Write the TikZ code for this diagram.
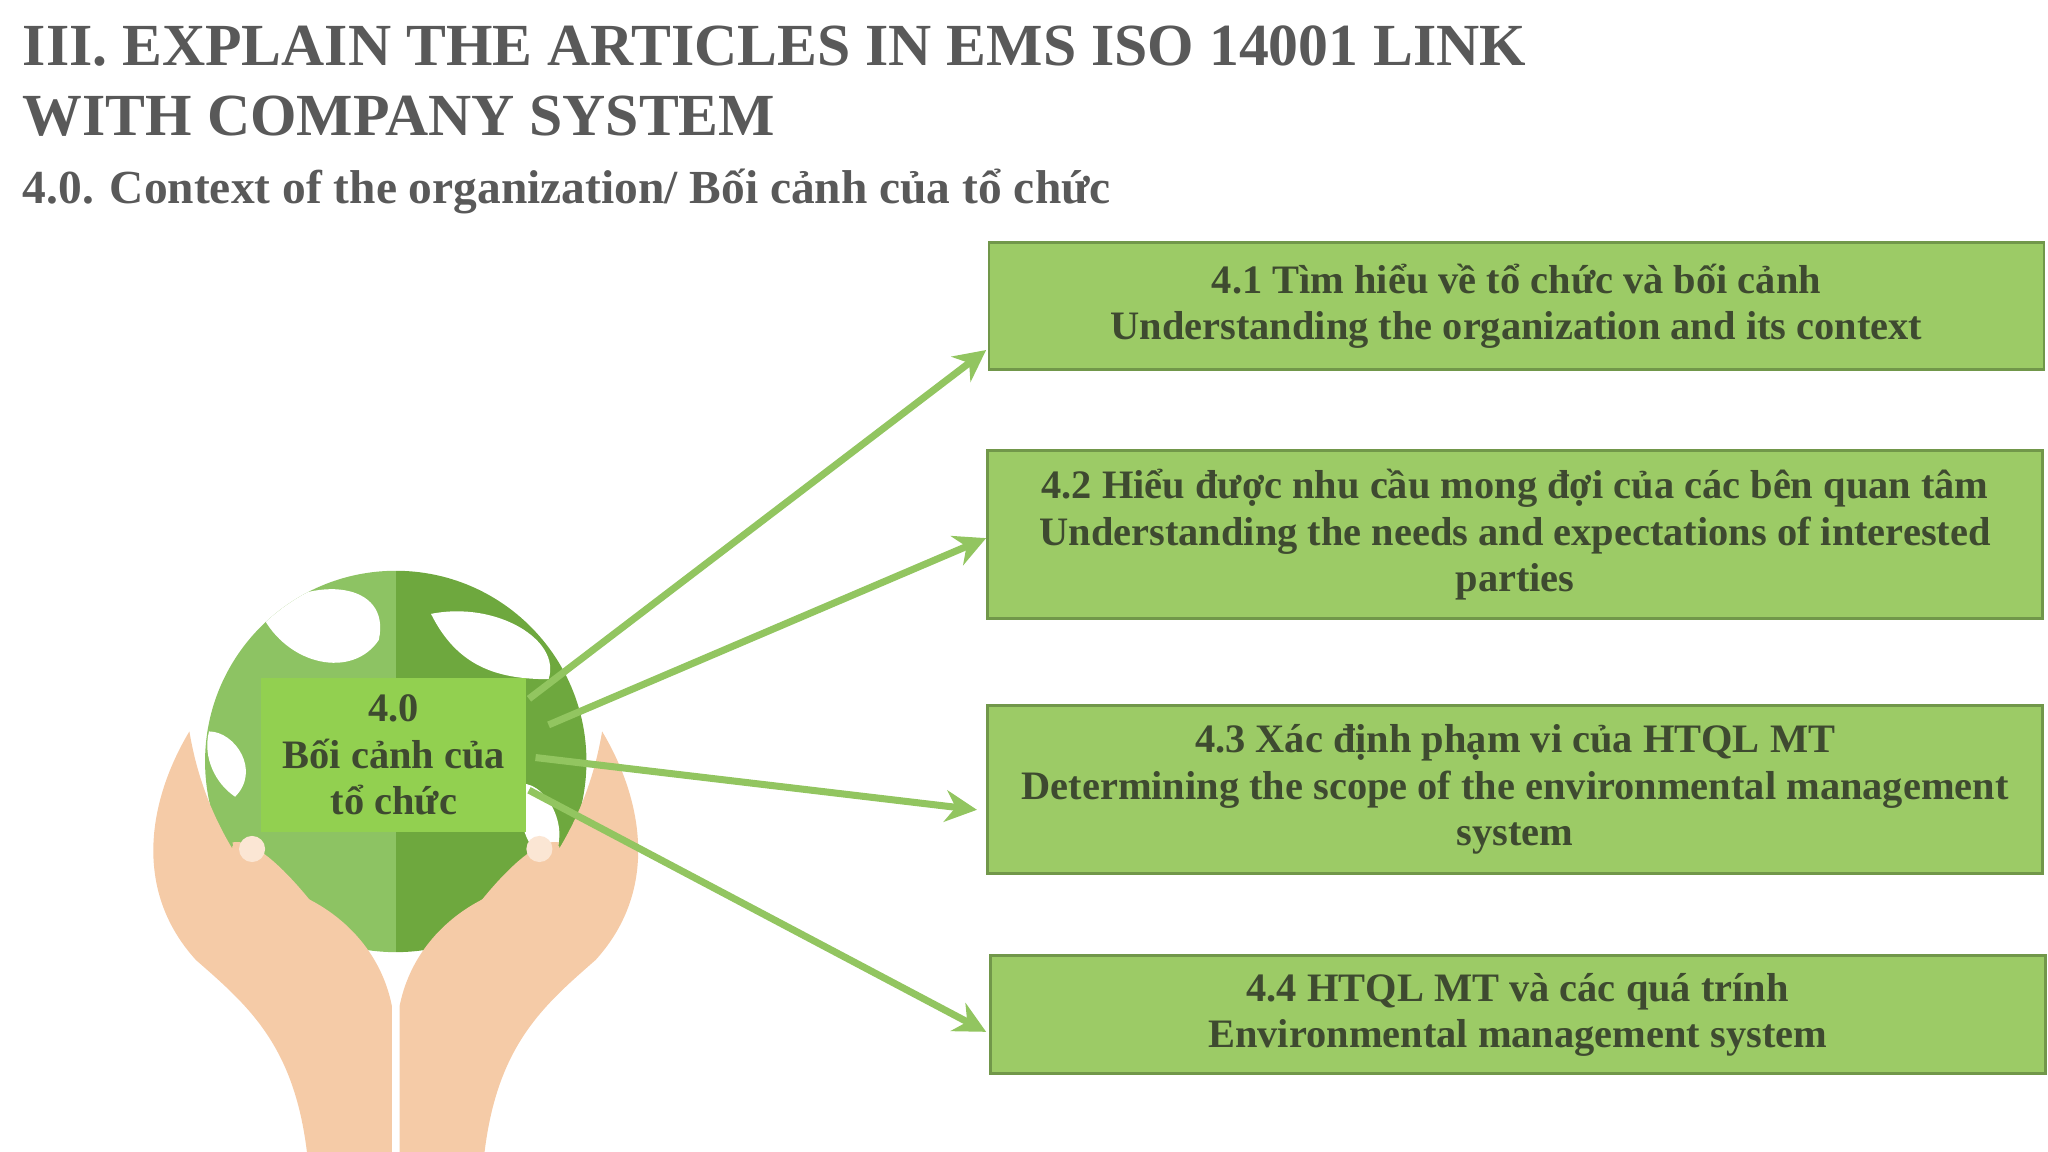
\documentclass[tikz,border=0pt]{standalone}
\usepackage{fontspec}
\setmainfont{Liberation Serif}
\usetikzlibrary{arrows.meta}
\definecolor{titlegray}{HTML}{595959}
\definecolor{boxfill}{HTML}{9CCB66}
\definecolor{boxline}{HTML}{71974A}
\definecolor{boxtext}{HTML}{3E4A30}
\definecolor{ctxgreen}{HTML}{92D050}
\definecolor{arrowgreen}{HTML}{92C560}
\definecolor{globelight}{HTML}{8DC363}
\definecolor{globedark}{HTML}{6EA83E}
\definecolor{skin}{HTML}{F5CBA7}
\definecolor{nail}{HTML}{FBE6D4}
\tikzset{
  item/.style={draw=boxline, line width=0.8pt, fill=boxfill, text=boxtext, align=center,
    font=\fontsize{11.5pt}{13.2pt}\selectfont\bfseries, inner sep=0pt,
    minimum width=10.55cm},
  link/.style={draw=arrowgreen, line width=2pt, -{Stealth[length=9pt,width=9pt]}}
}
\begin{document}
\begin{tikzpicture}[x=0.01306cm, y=-0.01306cm]
\useasboundingbox (0,0) rectangle (1568,882);

\node[anchor=north west, text=titlegray, align=left, font=\fontsize{17pt}{20pt}\selectfont\bfseries]
  (title) at (8,10) {III. EXPLAIN THE ARTICLES IN EMS ISO 14001 LINK\\WITH COMPANY SYSTEM};
\node[anchor=north west, text=titlegray, font=\fontsize{13.5pt}{16pt}\selectfont\bfseries]
  (subtitle) at (8,120) {4.0. Context of the organization/ Bối cảnh của tổ chức};

% globe
\begin{scope}
\clip (303,583) circle (146);
\fill[globelight] (150,430) rectangle (303,740);
\fill[globedark] (303,430) rectangle (460,740);
\fill[white] (200,470) .. controls (240,440) and (300,445) .. (290,490) .. controls (270,520) and (220,510) .. (200,470);
\fill[white] (330,470) .. controls (380,460) and (430,490) .. (420,520) .. controls (380,520) and (350,510) .. (330,470);
\fill[white] (160,560) .. controls (180,560) and (200,590) .. (180,610) .. controls (165,600) and (155,580) .. (160,560);
\fill[white] (400,600) .. controls (420,600) and (440,640) .. (420,660) .. controls (400,650) and (395,620) .. (400,600);
\end{scope}

% hands
\fill[skin] (145,560) .. controls (115,610) and (100,680) .. (150,735)
  .. controls (190,770) and (225,800) .. (235,882) -- (300,882) -- (300,770)
  .. controls (290,720) and (250,690) .. (215,680) .. controls (200,660) and (175,640) .. (178,650)
  .. controls (160,620) and (150,590) .. (145,560) -- cycle;
\fill[skin] (461,560) .. controls (491,610) and (506,680) .. (456,735)
  .. controls (416,770) and (381,800) .. (371,882) -- (306,882) -- (306,770)
  .. controls (316,720) and (356,690) .. (391,680) .. controls (406,660) and (431,640) .. (428,650)
  .. controls (446,620) and (456,590) .. (461,560) -- cycle;
\fill[skin] (178,645) .. controls (200,640) and (240,690) .. (260,720) -- (240,740) .. controls (215,700) and (185,680) .. (178,645) -- cycle;
\fill[skin] (428,645) .. controls (406,640) and (366,690) .. (346,720) -- (366,740) .. controls (391,700) and (421,680) .. (428,645) -- cycle;
\fill[nail] (193,650) circle (10);
\fill[nail] (413,650) circle (10);

% centre box
\node[item, draw=none, fill=ctxgreen, minimum width=2.65cm, minimum height=1.54cm]
  (ctx) at (301.5,578) {4.0\\Bối cảnh của\\tổ chức};

% items
\node[item, minimum height=1.27cm] (c41) at (1161,234.5)
  {4.1 Tìm hiểu về tổ chức và bối cảnh\\Understanding the organization and its context};
\node[item, minimum height=1.68cm] (c42) at (1160,409.5)
  {4.2 Hiểu được nhu cầu mong đợi của các bên quan tâm\\Understanding the needs and expectations of interested\\parties};
\node[item, minimum height=1.68cm] (c43) at (1160,604.5)
  {4.3 Xác định phạm vi của HTQL MT\\Determining the scope of the environmental management\\system};
\node[item, minimum height=1.18cm] (c44) at (1162,777)
  {4.4 HTQL MT và các quá trính\\Environmental management system};

% arrows
\coordinate (s1) at (405,535); \coordinate (e1) at (755,268);
\coordinate (s2) at (420,555); \coordinate (e2) at (755,412);
\coordinate (s3) at (410,580); \coordinate (e3) at (748,620);
\coordinate (s4) at (405,605); \coordinate (e4) at (755,790);
\foreach \i in {1,...,4}
  \draw[link] (s\i) -- (e\i);
\end{tikzpicture}
\end{document}
